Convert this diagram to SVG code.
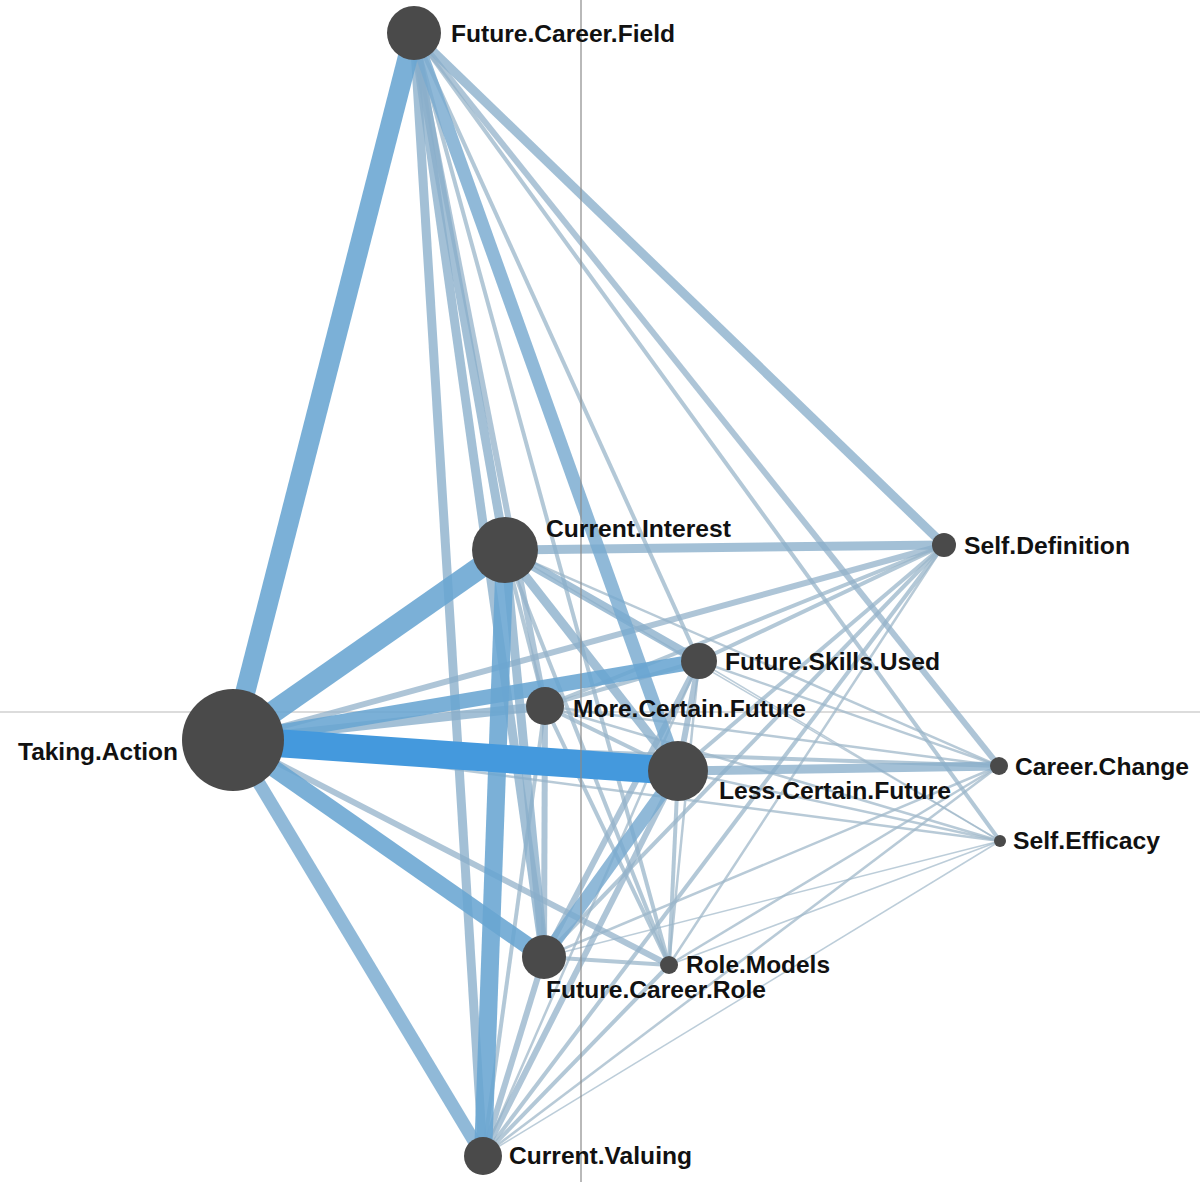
<svg xmlns="http://www.w3.org/2000/svg" width="1200" height="1182" viewBox="0 0 1200 1182">
<style>
.bg{fill:#ffffff}
.hax{stroke:#dcdcdc;stroke-width:2}
.vax{stroke:#8a8a8a;stroke-width:1.2}
line.e{stroke-linecap:butt}
.e1{stroke:#a0b8c9;stroke-opacity:0.7;stroke-width:1.5}
.e2{stroke:#a0b8c9;stroke-opacity:0.75;stroke-width:2.5}
.e3{stroke:#9ab5c9;stroke-opacity:0.75;stroke-width:4}
.e4{stroke:#93b2c9;stroke-opacity:0.75;stroke-width:6}
.e5{stroke:#89aeca;stroke-opacity:0.78;stroke-width:9}
.e6{stroke:#78a9cf;stroke-opacity:0.82;stroke-width:13}
.e7{stroke:#69a5d2;stroke-opacity:0.88}
.e8{stroke:#4499dd;stroke-opacity:1;stroke-width:28}
.node{fill:#4a4a4a}
.lbl{font-family:"Liberation Sans",Arial,sans-serif;font-weight:bold;font-size:24.5px;fill:#111111}
</style>
<rect class="bg" x="0" y="0" width="1200" height="1182"/>
<line class="hax" x1="0" y1="712" x2="1200" y2="712"/>
<g id="connectors">
<!-- e1 -->
<line class="e e1" x1="1000" y1="841" x2="669" y2="965"/>
<line class="e e1" x1="699" y1="661" x2="1000" y2="841"/>
<line class="e e1" x1="505" y1="550" x2="1000" y2="841"/>
<line class="e e1" x1="483" y1="1156" x2="1000" y2="841"/>
<line class="e e1" x1="544" y1="957" x2="1000" y2="841"/>
<!-- e2 -->
<line class="e e2" x1="699" y1="661" x2="999" y2="766"/>
<line class="e e2" x1="699" y1="661" x2="669" y2="965"/>
<line class="e e2" x1="545" y1="706" x2="1000" y2="841"/>
<line class="e e2" x1="678" y1="771" x2="1000" y2="841"/>
<line class="e e2" x1="999" y1="766" x2="669" y2="965"/>
<line class="e e2" x1="944" y1="545" x2="669" y2="965"/>
<line class="e e2" x1="483" y1="1156" x2="999" y2="766"/>
<line class="e e2" x1="699" y1="661" x2="483" y2="1156"/>
<line class="e e2" x1="505" y1="550" x2="999" y2="766"/>
<line class="e e2" x1="233" y1="740" x2="1000" y2="841"/>
<line class="e e2" x1="545" y1="706" x2="999" y2="766"/>
<line class="e e2" x1="544" y1="957" x2="999" y2="766"/>
<!-- e3 -->
<line class="e e3" x1="414" y1="33" x2="699" y2="661"/>
<line class="e e3" x1="414" y1="33" x2="669" y2="965"/>
<line class="e e3" x1="414" y1="33" x2="1000" y2="841"/>
<line class="e e3" x1="678" y1="771" x2="669" y2="965"/>
<line class="e e3" x1="678" y1="771" x2="944" y2="545"/>
<line class="e e3" x1="699" y1="661" x2="944" y2="545"/>
<line class="e e3" x1="545" y1="706" x2="944" y2="545"/>
<line class="e e3" x1="483" y1="1156" x2="944" y2="545"/>
<line class="e e3" x1="545" y1="706" x2="699" y2="661"/>
<line class="e e3" x1="505" y1="550" x2="669" y2="965"/>
<line class="e e3" x1="544" y1="957" x2="669" y2="965"/>
<line class="e e3" x1="544" y1="957" x2="944" y2="545"/>
<line class="e e3" x1="483" y1="1156" x2="669" y2="965"/>
<line class="e e3" x1="545" y1="706" x2="669" y2="965"/>
<line class="e e3" x1="505" y1="550" x2="545" y2="706"/>
<line class="e e3" x1="545" y1="706" x2="483" y2="1156"/>
<line class="e e3" x1="678" y1="771" x2="545" y2="706"/>
<line class="e e3" x1="233" y1="740" x2="999" y2="766"/>
<!-- e4 -->
<line class="e e4" x1="414" y1="33" x2="545" y2="706"/>
<line class="e e4" x1="414" y1="33" x2="999" y2="766"/>
<line class="e e4" x1="233" y1="740" x2="944" y2="545"/>
<line class="e e4" x1="233" y1="740" x2="669" y2="965"/>
<line class="e e4" x1="678" y1="771" x2="699" y2="661"/>
<line class="e e4" x1="678" y1="771" x2="483" y2="1156"/>
<line class="e e4" x1="544" y1="957" x2="699" y2="661"/>
<line class="e e4" x1="545" y1="706" x2="544" y2="957"/>
<line class="e e4" x1="544" y1="957" x2="483" y2="1156"/>
<!-- e5 -->
<line class="e e5" x1="414" y1="33" x2="944" y2="545"/>
<line class="e e5" x1="505" y1="550" x2="944" y2="545"/>
<line class="e e5" x1="505" y1="550" x2="699" y2="661"/>
<line class="e e5" x1="505" y1="550" x2="678" y2="771"/>
<line class="e e5" x1="505" y1="550" x2="544" y2="957"/>
<line class="e e5" x1="678" y1="771" x2="999" y2="766"/>
<line class="e e5" x1="414" y1="33" x2="483" y2="1156"/>
<line class="e e5" x1="414" y1="33" x2="544" y2="957"/>
<line class="e e5" x1="414" y1="33" x2="505" y2="550"/>
<line class="e e5" x1="233" y1="740" x2="545" y2="706"/>
<!-- e6 -->
<line class="e e6" x1="414" y1="33" x2="678" y2="771"/>
<line class="e e6" x1="678" y1="771" x2="544" y2="957"/>
<line class="e e6" x1="233" y1="740" x2="483" y2="1156"/>
<!-- e7 -->
<line class="e e7" style="stroke-width:15" x1="233" y1="740" x2="699" y2="661"/>
<line class="e e7" style="stroke-width:17" x1="233" y1="740" x2="544" y2="957"/>
<line class="e e7" style="stroke-width:18" x1="505" y1="550" x2="483" y2="1156"/>
<line class="e e7" style="stroke-width:20" x1="233" y1="740" x2="414" y2="33"/>
<line class="e e7" style="stroke-width:22" x1="233" y1="740" x2="505" y2="550"/>
<!-- e8 -->
<line class="e e8" x1="233" y1="740" x2="678" y2="771"/>
</g>
<line class="vax" x1="581" y1="0" x2="581" y2="1182"/>
<g id="n-future-career-field"><circle class="node" cx="414" cy="33" r="27"/><text class="lbl" x="451" y="42" textLength="224" lengthAdjust="spacingAndGlyphs">Future.Career.Field</text></g>
<g id="n-current-interest"><circle class="node" cx="505" cy="550" r="33"/><text class="lbl" x="546" y="537" textLength="185" lengthAdjust="spacingAndGlyphs">Current.Interest</text></g>
<g id="n-self-definition"><circle class="node" cx="944" cy="545" r="12"/><text class="lbl" x="964" y="554" textLength="166" lengthAdjust="spacingAndGlyphs">Self.Definition</text></g>
<g id="n-future-skills-used"><circle class="node" cx="699" cy="661" r="18"/><text class="lbl" x="725" y="670" textLength="215" lengthAdjust="spacingAndGlyphs">Future.Skills.Used</text></g>
<g id="n-more-certain-future"><circle class="node" cx="545" cy="706" r="19"/><text class="lbl" x="573" y="717" textLength="233" lengthAdjust="spacingAndGlyphs">More.Certain.Future</text></g>
<g id="n-taking-action"><circle class="node" cx="233" cy="740" r="51"/><text class="lbl" x="18" y="760" textLength="160" lengthAdjust="spacingAndGlyphs">Taking.Action</text></g>
<g id="n-less-certain-future"><circle class="node" cx="678" cy="771" r="30"/><text class="lbl" x="719" y="799" textLength="232" lengthAdjust="spacingAndGlyphs">Less.Certain.Future</text></g>
<g id="n-career-change"><circle class="node" cx="999" cy="766" r="9"/><text class="lbl" x="1015" y="775" textLength="174" lengthAdjust="spacingAndGlyphs">Career.Change</text></g>
<g id="n-self-efficacy"><circle class="node" cx="1000" cy="841" r="6"/><text class="lbl" x="1013" y="849" textLength="147" lengthAdjust="spacingAndGlyphs">Self.Efficacy</text></g>
<g id="n-role-models"><circle class="node" cx="669" cy="965" r="9"/><text class="lbl" x="686" y="973" textLength="144" lengthAdjust="spacingAndGlyphs">Role.Models</text></g>
<g id="n-future-career-role"><circle class="node" cx="544" cy="957" r="22"/><text class="lbl" x="546" y="998" textLength="220" lengthAdjust="spacingAndGlyphs">Future.Career.Role</text></g>
<g id="n-current-valuing"><circle class="node" cx="483" cy="1156" r="19"/><text class="lbl" x="509" y="1164" textLength="183" lengthAdjust="spacingAndGlyphs">Current.Valuing</text></g>
</svg>
